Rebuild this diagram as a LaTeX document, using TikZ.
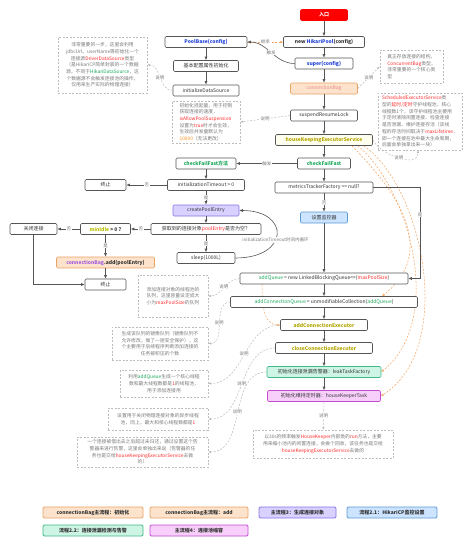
\documentclass[tikz,border=0pt]{standalone}
\usepackage{fontspec}
\setmainfont{Noto Sans CJK SC}
\usetikzlibrary{arrows.meta,backgrounds}

\definecolor{boxline}{HTML}{555555}
\definecolor{txtdark}{HTML}{333333}
\definecolor{kwblue}{HTML}{2040D8}
\definecolor{kwgreen}{HTML}{19A85A}
\definecolor{kwolive}{HTML}{B3A600}
\definecolor{kwred}{HTML}{FF2A2A}
\definecolor{kworange}{HTML}{FF8C1A}
\definecolor{kwpurple}{HTML}{A45BE0}
\definecolor{kwlime}{HTML}{B5BE00}
\definecolor{bagtext}{HTML}{E58A8A}
\definecolor{notegray}{HTML}{BDBDBD}
\definecolor{notetext}{HTML}{7A7A7A}
\definecolor{useorange}{HTML}{F4A460}
\definecolor{bagfill}{HTML}{FDE3CB}
\definecolor{bagline}{HTML}{E9A466}
\definecolor{purplefill}{HTML}{D9D1FF}
\definecolor{purpleline}{HTML}{8C73E6}
\definecolor{bluefill}{HTML}{CCE4FF}
\definecolor{blueline}{HTML}{5B9BD5}
\definecolor{greenfill}{HTML}{CDF4E4}
\definecolor{greenline}{HTML}{40BA88}
\definecolor{pinkfill}{HTML}{F8CFFB}
\definecolor{pinkline}{HTML}{C24BD0}
\definecolor{hkfill}{HTML}{FFFFF0}

\tikzset{
  proc/.style={draw=boxline, fill=white, rounded corners=1.2pt, line width=0.6pt,
    minimum height=11pt, inner sep=0.8pt, text=txtdark, font=\fontsize{5}{6}\selectfont},
  strong/.style={font=\fontsize{5}{6}\selectfont\bfseries},
  entrybox/.style={proc, draw=red, fill=red, text=white, strong},
  bagbox/.style={proc, draw=bagline, fill=bagfill},
  purplebox/.style={proc, draw=purpleline, fill=purplefill},
  bluebox/.style={proc, draw=blueline, fill=bluefill},
  greenbox/.style={proc, draw=greenline, fill=greenfill},
  pinkbox/.style={proc, draw=pinkline, fill=pinkfill},
  note/.style={draw=notegray, dash pattern=on 2pt off 1.5pt, line width=0.5pt,
    inner sep=2pt, text=notetext, font=\fontsize{4.8}{6.7}\selectfont},
  flow/.style={draw=boxline, line width=0.6pt, -{Latex[length=3.5pt,width=3pt]}},
  noteline/.style={draw=notegray, line width=0.5pt, dash pattern=on 2pt off 1.5pt,
    -{Latex[length=2.8pt,width=2.4pt]}},
  useline/.style={draw=useorange, line width=0.5pt, dash pattern=on 2pt off 1.5pt,
    -{Latex[length=2.8pt,width=2.4pt]}},
  lbl/.style={fill=white, inner sep=0.6pt, text=notetext, font=\fontsize{4.5}{5}\selectfont},
  legend/.style={rounded corners=1.2pt, line width=0.8pt, minimum height=11pt,
    inner sep=0.8pt, text=txtdark, font=\fontsize{5}{6}\selectfont\bfseries},
}

\begin{document}
\begin{tikzpicture}[x=1pt,y=-1pt]
\useasboundingbox (0,0) rectangle (474,546);

% Main column
\node[entrybox, minimum width=47pt] (entry) at (324,15) {入口};
\node[proc, strong, minimum width=81pt] (newpool) at (324,42) {new \textcolor{kwblue}{HikariPool}(config)};
\node[proc, strong, text=kwblue, minimum width=58pt] (super) at (324,63.5) {super(config)};
\node[bagbox, text=bagtext, minimum width=67pt] (bag) at (324,88.5) {connectionBag};
\node[proc, minimum width=67pt] (suspend) at (324,115.5) {suspendResumeLock};
\node[proc, strong, fill=hkfill, text=kwolive, minimum width=97pt] (hkexec) at (324,140) {houseKeepingExecutorService};
\node[proc, strong, text=kwgreen, minimum width=53pt] (failfast) at (324,163.5) {checkFailFast};
\node[proc, minimum width=98pt] (metrics) at (324,187.5) {metricsTrackerFactory == null?};
\node[bluebox, minimum width=47pt] (monitor) at (324,217.5) {设置监控器};
\node[proc, minimum width=168pt] (addqueue) at (324,278.5) {\textcolor{kwgreen}{addQueue} = new LinkedBlockingQueue<>(\textcolor{kwred}{maxPoolSize})};
\node[proc, minimum width=187pt] (addcq) at (324,302) {\textcolor{kwgreen}{addConnectionQueue} = unmodifiableCollection(\textcolor{kwgreen}{addQueue})};
\node[proc, strong, text=kwolive, minimum width=87pt] (addexec) at (324,325) {addConnectionExecutor};
\node[proc, strong, text=kwolive, minimum width=97pt] (closeexec) at (324,348) {closeConnectionExecutor};
\node[greenbox, minimum width=114pt] (leak) at (324,372) {初始化连接泄漏告警器：leakTaskFactory};
\node[pinkbox, minimum width=113pt] (hktask) at (324,396) {初始化维持定时器：houseKeeperTask};
\coordinate (yesturn) at (420,187.5);

% Left column
\node[proc, strong, text=kwblue, minimum width=82pt] (poolbase) at (206,42) {PoolBase(config)};
\node[proc, minimum width=65pt] (baseinit) at (206,66) {基本配置属性初始化};
\node[proc, minimum width=66pt] (initds) at (206,90.5) {initializeDataSource};
\node[proc, strong, text=kwgreen, minimum width=60pt] (ffmethod) at (206,163.5) {checkFailFast方法};
\node[proc, minimum width=77pt] (inittimeout) at (206,185) {initializationTimeout > 0};
\node[purplebox, minimum width=66pt] (createentry) at (206,210.5) {createPoolEntry};
\node[proc, minimum width=110pt] (entrynull) at (206,229) {获取到的连接对象\textcolor{kwred}{poolEntry}是否为空？};
\node[proc, minimum width=58pt] (sleep) at (206,258) {sleep(1000L)};
\node[proc, minimum width=41pt] (stopa) at (105.5,185) {终止};
\node[proc, strong, minimum width=50pt] (minidle) at (105.5,229) {\textcolor{kwlime}{minIdle} > 0 ?};
\node[proc, minimum width=47pt] (closeconn) at (33.5,229) {关闭连接};
\node[bagbox, strong, minimum width=98pt] (bagadd) at (105.5,262.5) {\textcolor{kwpurple}{connectionBag}.add(poolEntry)};
\node[proc, minimum width=41pt] (stopb) at (105.5,284.5) {终止};

% Notes
\node[note, minimum width=89pt, minimum height=56pt, align=center] (notedds) at (102.5,65) {非常重要的一步，这里会利用\\jdbcUrl、userName等初始化一个\\连接源\textcolor{kwred}{DriverDataSource}类型\\（是HikariCP简单封装的一个数据\\源，不同于\textcolor{kwgreen}{HikariDataSource}，这\\个数据源不会触发连接池的操作，\\仅用来生产实际的物理连接）};
\node[note, minimum width=68pt, minimum height=40pt, align=left] (notesusp) at (206,122) {初始化挂起量，用于控制\\获取连接的速度，\\\textcolor{kwred}{isAllowPoolSuspension}\\设置为\textcolor{kwred}{true}时才会生效，\\生效后并发量默认为\\\textcolor{kworange}{10000}（无法更改）};
\node[note, minimum width=63pt, minimum height=33pt, align=left] (notebag) at (411.5,66.5) {真正存放连接的结构，\\\textcolor{kwred}{ConcurrentBag}类型，\\非常重要的一个核心类\\型};
\node[note, minimum width=84pt, minimum height=57pt, align=left] (notehk) at (420,121.5) {\textcolor{kwred}{ScheduledExecutorService}类\\型的\textcolor{kwred}{延时/定时}守护线程池，核心\\线程数1个，该守护线程池主要用\\于定时清除闲置连接、检查连接\\是否泄漏、维护连接存活（该线\\程的存活时间取决于\textcolor{kwred}{maxLifetime}，\\即一个连接在池中最大生命周期，\\后面会单独拿出来一块）};
\node[note, minimum width=70pt, minimum height=42pt, align=left] (notequeue) at (173,296) {添加连接对象的线程池的\\队列，这里容量设定成大\\小为\textcolor{kwred}{maxPoolSize}的队列};
\node[note, minimum width=96pt, minimum height=33pt, align=center] (notemirror) at (160,343.5) {生成该队列的镜像队列（镜像队列不\\允许修改，做了一层安全保护），这\\个主要用于后续程序判断添加连接的\\任务被积压的个数};
\node[note, minimum width=88pt, minimum height=27pt, align=center] (noteaddexec) at (164,383.5) {利用\textcolor{kwgreen}{addQueue}生成一个核心线程\\数和最大线程数都是\textcolor{kwred}{1}的线程池，\\用于添加连接用};
\node[note, minimum width=100pt, minimum height=22pt, align=center] (noteclose) at (158,419) {设置用于关闭物理连接对象的异步线程\\池，同上，最大和核心线程数都是\textcolor{kwred}{1}};
\node[note, minimum width=131pt, minimum height=30pt, align=center] (noteleak) at (142.5,452) {一个连接被借出去之后超过未归还，通过设置这个告\\警器来进行告警，这里会单独出来说（告警器的任\\务也是交给\textcolor{kwred}{houseKeepingExecutorService}去做\\的）};
\node[note, minimum width=140pt, minimum height=28pt, align=center] (notekeeper) at (323,444) {以30s的频率触发\textcolor{kwred}{HouseKeeper}内部类的\textcolor{kwred}{run}方法，主要\\用来缩小池内的闲置连接，会挨个回收，该任务也是交给\\\textcolor{kwred}{houseKeepingExecutorService}去做的};

% Legend
\node[legend, draw=bagline, fill=bagfill, minimum width=100pt] (legbaginit) at (93,512.5) {connectionBag主流程：初始化};
\node[legend, draw=bagline, fill=bagfill, minimum width=98pt] (legbagadd) at (199,512.5) {connectionBag主流程：add};
\node[legend, draw=purpleline, fill=purplefill, minimum width=77pt] (legcreate) at (297.5,512.5) {主流程3：生成连接对象};
\node[legend, draw=blueline, fill=bluefill, minimum width=90pt] (legmonitor) at (392,512.5) {流程2.1：HikariCP监控设置};
\node[legend, draw=greenline, fill=greenfill, minimum width=100pt] (legleak) at (93,530.5) {流程2.2：连接泄漏检测与告警};
\node[legend, draw=pinkline, fill=pinkfill, minimum width=98pt] (legshrink) at (199,530.5) {主流程4：连接池缩容};

% Main flow
\draw[flow] (entry) -- (newpool);
\draw[flow] (newpool) -- (super);
\draw[flow] (super) -- (bag);
\draw[flow] (bag) -- (suspend);
\draw[flow] (suspend) -- (hkexec);
\draw[flow] (hkexec) -- (failfast);
\draw[flow] (failfast) -- (metrics);
\draw[flow] (metrics) -- node[lbl]{否} (monitor);
\draw[flow] (metrics.east) -- (yesturn) |- node[lbl, pos=0.15]{是} (addqueue.east);
\draw[flow] (monitor) -- (addqueue);
\draw[flow] (addqueue) -- (addcq);
\draw[flow] (addcq) -- (addexec);
\draw[flow] (addexec) -- (closeexec);
\draw[flow] (closeexec) -- (leak);
\draw[flow] (leak) -- (hktask);

% Left flow
\draw[flow] (super.west) to[out=180,in=0] node[lbl]{触发} (poolbase.east);
\draw[flow] (poolbase) -- (baseinit);
\draw[flow] (baseinit) -- (initds);
\draw[flow] (failfast) -- node[lbl]{触发} (ffmethod);
\draw[flow] (ffmethod) -- (inittimeout);
\draw[flow] (inittimeout) -- node[lbl]{否} (stopa);
\draw[flow] (inittimeout) -- node[lbl]{是} (createentry);
\draw[flow] (createentry) -- (entrynull);
\draw[flow] (entrynull) -- node[lbl]{是} (sleep);
\draw[flow] (sleep.east) .. controls (290,258) and (290,210.5) .. node[lbl, pos=0.42]{initializationTimeout时间内循环} (createentry.east);
\draw[flow] (entrynull) -- node[lbl]{否} (minidle);
\draw[flow] (minidle) -- node[lbl]{否} (closeconn);
\draw[flow] (minidle) -- node[lbl]{是} (bagadd);
\draw[flow] (bagadd) -- (stopb);
\draw[flow] (closeconn.south) |- (stopb.west);

% Notes links
\draw[noteline] (initds.west) to[out=180,in=0] node[lbl]{说明} (notedds.east);
\draw[noteline] (suspend.west) -- node[lbl]{说明} (notesusp.east);
\draw[noteline] (bag.east) -- node[lbl]{说明} (notebag.west);
\draw[noteline] (hkexec.east) to[out=-60,in=-90] node[lbl]{说明} ([xshift=-2pt]notehk.south);
\draw[noteline] (addqueue.west) to[out=180,in=0] node[lbl]{说明} (notequeue.east);
\draw[noteline] (addcq.west) to[out=180,in=0] node[lbl]{说明} (notemirror.east);
\draw[noteline] (addexec.west) to[out=180,in=0] node[lbl]{说明} (noteaddexec.east);
\draw[noteline] (closeexec.west) to[out=180,in=0] node[lbl]{说明} (noteclose.east);
\draw[noteline] (leak.west) to[out=180,in=0] node[lbl]{说明} (noteleak.east);
\draw[noteline] (hktask) -- node[lbl]{说明} (notekeeper);

% Uses (behind the boxes)
\begin{scope}[on background layer]
\fill[white] (0,0) rectangle (474,546);
\draw[useline] (poolbase.east) -- node[lbl]{继承} (newpool.west);
\draw[useline] ([xshift=-62pt]addqueue.south) to[out=-90,in=180] (addexec.west);
\draw[useline] ([xshift=28pt]hkexec.south) .. controls (395,190) and (440,250) .. ([xshift=58pt]addcq.north);
\draw[useline] ([xshift=34pt]hkexec.south) .. controls (410,190) and (445,320) .. (leak.east);
\draw[useline] ([xshift=40pt]hkexec.south) .. controls (425,190) and (455,350) .. (hktask.east);
\end{scope}

\end{tikzpicture}
\end{document}
